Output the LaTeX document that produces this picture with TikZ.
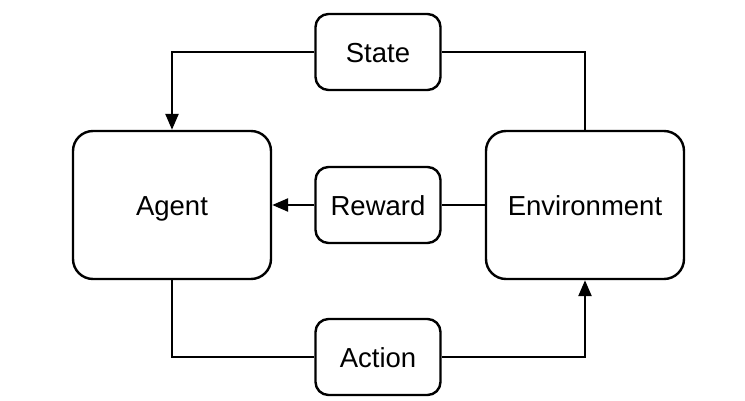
\documentclass[tikz,border=0pt]{standalone}
\usepackage{fontspec}
\setmainfont{Liberation Sans}
\usetikzlibrary{arrows.meta}
\begin{document}
\begin{tikzpicture}[x=1pt,y=-1pt,
  txt/.style={font=\fontsize{27.5}{32}\selectfont,text height=23pt,text depth=2.5pt},
  bigbox/.style={txt,draw,line width=2.4pt,rounded corners=20pt,minimum width=198pt,minimum height=148pt,inner sep=0pt},
  smallbox/.style={txt,draw,line width=2.4pt,rounded corners=13pt,minimum width=125pt,minimum height=76pt,inner sep=0pt},
  conn/.style={line width=2.4pt},
  arr/.style={conn,-{Triangle[length=16pt,width=13pt]}}]
\useasboundingbox (0,0) rectangle (745,401);
\node[bigbox] (agent) at (172,205) {Agent};
\node[bigbox] (env) at (585,205) {Environment};
\node[smallbox] (state) at (378,52) {State};
\node[smallbox] (reward) at (378,205) {Reward};
\node[smallbox] (action) at (378,357) {Action};
\draw[conn] (env.north) |- (state.east);
\draw[arr] (state.west) -| (agent.north);
\draw[conn] (env.west) -- (reward.east);
\draw[arr] (reward.west) -- (agent.east);
\draw[conn] (agent.south) |- (action.west);
\draw[arr] (action.east) -| (env.south);
\end{tikzpicture}
\end{document}
